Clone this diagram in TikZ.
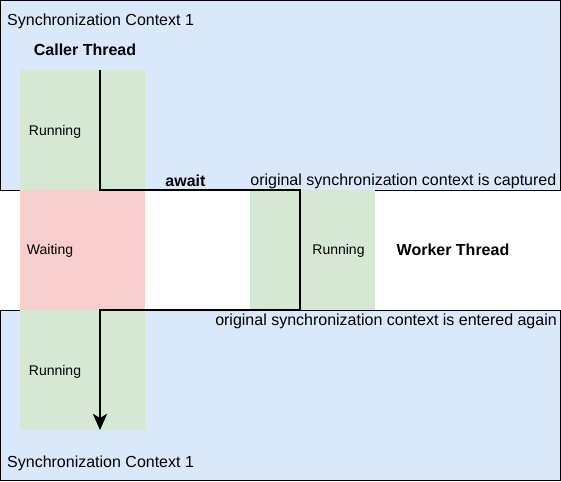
\documentclass[tikz,border=0pt]{standalone}
\usepackage{fontspec}
\setmainfont{Liberation Sans}
\usetikzlibrary{arrows.meta}
\definecolor{ctxblue}{HTML}{DAE8FC}
\definecolor{rungreen}{HTML}{D5E8D4}
\definecolor{waitred}{HTML}{F8CECC}
\tikzset{
  ctxbox/.style={draw=black, line width=1pt, fill=ctxblue},
  phase/.style={draw=none, minimum width=125pt, minimum height=120pt, anchor=north west, inner sep=0pt},
  big/.style={font=\fontsize{16}{19}\selectfont, inner sep=0pt},
  bigbold/.style={font=\fontsize{16}{19}\selectfont\bfseries, inner sep=0pt},
  small/.style={font=\fontsize{14}{17}\selectfont, inner sep=0pt},
  flow/.style={draw=black, line width=2.8pt}
}
\begin{document}
\begin{tikzpicture}[x=1pt,y=-1pt]
\useasboundingbox (0,0) rectangle (561,481);
% contexts
\draw[ctxbox] (0.5,0.5) rectangle (560.5,190);
\draw[ctxbox] (0.5,310) rectangle (560.5,480.5);
% phases
\node[phase, fill=rungreen] (run1) at (20,70) {};
\node[phase, fill=waitred] (wait) at (20,190) {};
\node[phase, fill=rungreen] (run3) at (20,310) {};
\node[phase, fill=rungreen] (run2) at (250,190) {};
% labels
\node[big, anchor=west] (ctx1) at (7,21) {Synchronization Context 1};
\node[big, anchor=west] (ctx2) at (7,463) {Synchronization Context 1};
\node[bigbold] (caller) at (85,50) {Caller Thread};
\node[bigbold] (worker) at (453,250) {Worker Thread};
\node[bigbold] (await) at (185.5,181) {await};
\node[big, anchor=east] (capt) at (556.5,181) {original synchronization context is captured};
\node[big, anchor=east] (again) at (557,321.5) {original synchronization context is entered again};
\node[small] (l1) at (55,131.5) {Running};
\node[small] (l2) at (50,251) {Waiting};
\node[small] (l3) at (338.5,251) {Running};
\node[small] (l4) at (55,371.5) {Running};
% flow
\coordinate (p0) at (100,70);
\coordinate (p1) at (100,190);
\coordinate (p2) at (300,190);
\coordinate (p3) at (300,310);
\coordinate (p4) at (100,310);
\coordinate (p5) at (100,430);
\draw[flow, -{Stealth[length=16pt,width=14pt,inset=4pt]}] (p0) -- (p1) -- (p2) -- (p3) -- (p4) -- (p5);
\end{tikzpicture}
\end{document}
